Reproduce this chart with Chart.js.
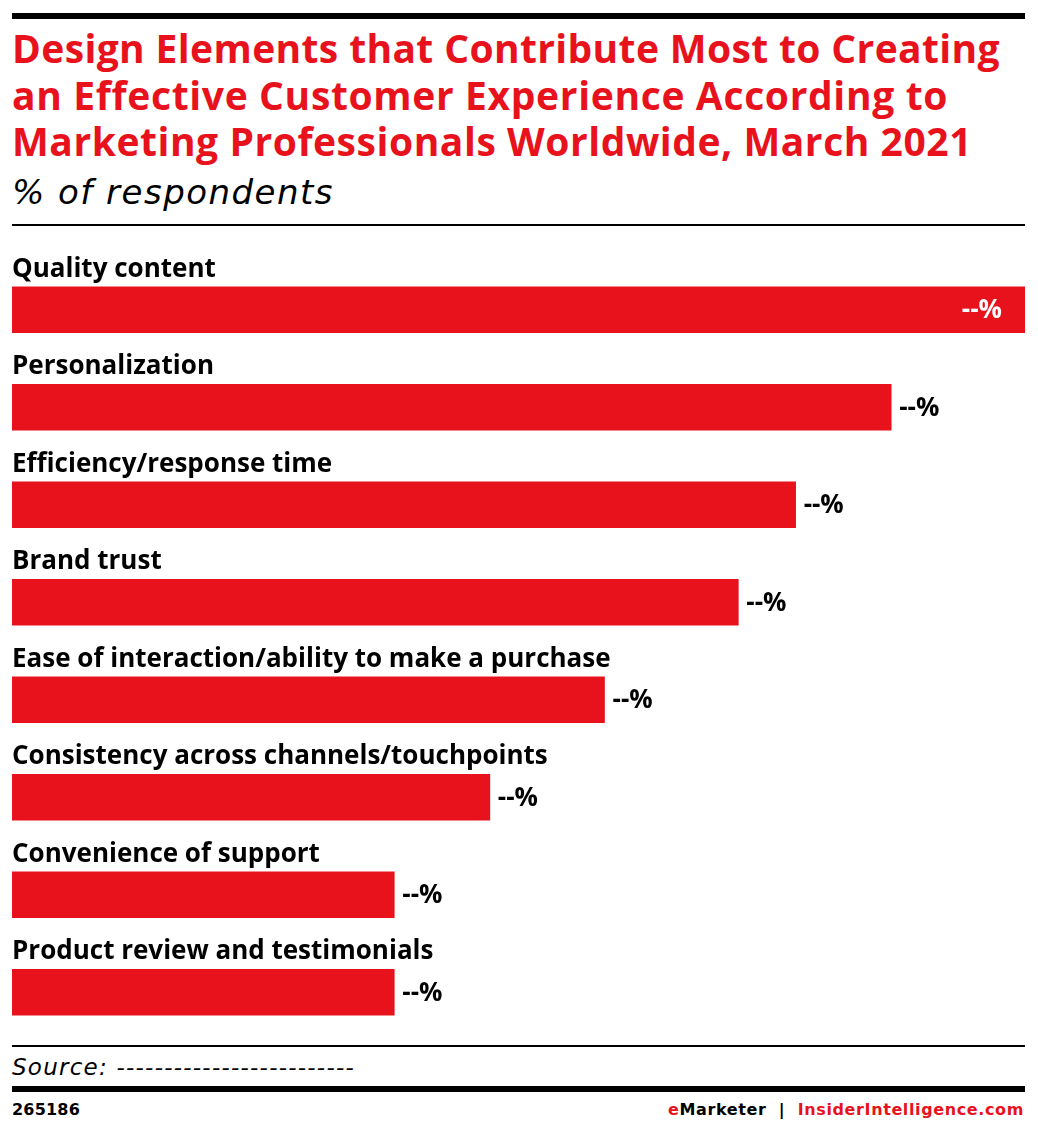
<!DOCTYPE html>
<html>
<head>
<meta charset="utf-8">
<script src="https://cdn.jsdelivr.net/npm/chart.js@4/dist/chart.umd.min.js"></script>
<style>
  html, body { margin: 0; padding: 0; background: #fff; }
  body { width: 1038px; height: 1134px; position: relative; font-family: "Open Sans", Lato, sans-serif; overflow: hidden; }
  .rule { position: absolute; left: 12px; width: 1013px; background: #000; }
  .fit { display: inline-block; white-space: nowrap; }
  #title { position: absolute; left: 12px; top: 25px; color: #e8121d; font-weight: 700; font-size: 39px; line-height: 46.5px; }
  #title div { white-space: nowrap; }
  #subtitle { position: absolute; left: 12px; top: 172px; font-family: "DejaVu Sans", "Open Sans", sans-serif; font-style: italic; font-size: 34px; line-height: 40px; color: #000; }
  #chartWrap { position: absolute; left: 0; top: 230px; width: 1038px; height: 820px; }
  #source { position: absolute; left: 12px; top: 1053px; font-family: "DejaVu Sans", "Open Sans", sans-serif; font-style: italic; font-size: 23px; line-height: 28px; color: #000; }
  #id { position: absolute; left: 12px; top: 1100px; font-family: "DejaVu Sans", "Open Sans", sans-serif; font-weight: 700; font-size: 16px; line-height: 20px; color: #000; }
  #brand { position: absolute; right: 14px; top: 1100px; font-family: "DejaVu Sans", "Open Sans", sans-serif; font-weight: 700; font-size: 16px; line-height: 20px; color: #000; }
  .red { color: #e8121d; }
</style>
</head>
<body>
<div class="rule" style="top:13px;height:6px;"></div>
<div id="title">
  <div><span class="fit" data-w="988">Design Elements that Contribute Most to Creating</span></div>
  <div><span class="fit" data-w="936">an Effective Customer Experience According to</span></div>
  <div><span class="fit" data-w="960">Marketing Professionals Worldwide, March 2021</span></div>
</div>
<div id="subtitle"><span class="fit" data-w="322">% of respondents</span></div>
<div class="rule" style="top:224px;height:2px;"></div>
<div id="chartWrap"><canvas id="c" width="1038" height="820"></canvas></div>
<div class="rule" style="top:1045px;height:2px;"></div>
<div id="source"><span class="fit" data-w="343">Source: -------------------------</span></div>
<div class="rule" style="top:1086px;height:6px;"></div>
<div id="id"><span class="fit" data-w="68">265186</span></div>
<div id="brand"><span class="fit" data-w="356"><span class="red">e</span>Marketer &nbsp;|&nbsp; <span class="red">InsiderIntelligence.com</span></span></div>
<script>
const categories = [
  "Quality content",
  "Personalization",
  "Efficiency/response time",
  "Brand trust",
  "Ease of interaction/ability to make a purchase",
  "Consistency across channels/touchpoints",
  "Convenience of support",
  "Product review and testimonials"
];
const values = [53, 46, 41, 38, 31, 25, 20, 20];
const valueLabels = ["--%", "--%", "--%", "--%", "--%", "--%", "--%", "--%"];
const xMax = 53;

const RED = "#e8121d";
const FONT = "700 26px 'Open Sans', Lato, sans-serif";

// stretch header/footer text to the reference widths
document.querySelectorAll(".fit").forEach(el => {
  const target = parseFloat(el.dataset.w);
  el.style.letterSpacing = "0px";
  const w = el.getBoundingClientRect().width;
  const n = el.textContent.length;
  el.style.letterSpacing = ((target - w) / n) + "px";
});

const labelPlugin = {
  id: "barLabels",
  afterDatasetsDraw(chart) {
    const ctx = chart.ctx;
    const meta = chart.getDatasetMeta(0);
    const area = chart.chartArea;
    ctx.save();
    meta.data.forEach((bar, i) => {
      const top = bar.y - bar.height / 2;
      ctx.font = FONT;
      ctx.fillStyle = "#000";
      ctx.textAlign = "left";
      ctx.textBaseline = "alphabetic";
      ctx.fillText(categories[i], area.left, top - 10);
      ctx.textBaseline = "middle";
      if (bar.x > area.right - 70) {
        ctx.fillStyle = "#fff";
        ctx.textAlign = "right";
        ctx.fillText(valueLabels[i], bar.x - 23, bar.y + 1);
      } else {
        ctx.fillStyle = "#000";
        ctx.textAlign = "left";
        ctx.fillText(valueLabels[i], bar.x + 8, bar.y + 1);
      }
    });
    ctx.restore();
  }
};

new Chart(document.getElementById("c"), {
  type: "bar",
  data: {
    labels: categories,
    datasets: [{
      data: values,
      backgroundColor: RED,
      borderWidth: 0,
      barThickness: 46
    }]
  },
  options: {
    indexAxis: "y",
    responsive: false,
    animation: false,
    devicePixelRatio: 1,
    layout: { padding: { left: 12, right: 13, top: 31, bottom: 9 } },
    plugins: { legend: { display: false }, tooltip: { enabled: false }, title: { display: false } },
    scales: {
      x: { display: false, min: 0, max: xMax },
      y: { display: false }
    }
  },
  plugins: [labelPlugin]
});
</script>
</body>
</html>
